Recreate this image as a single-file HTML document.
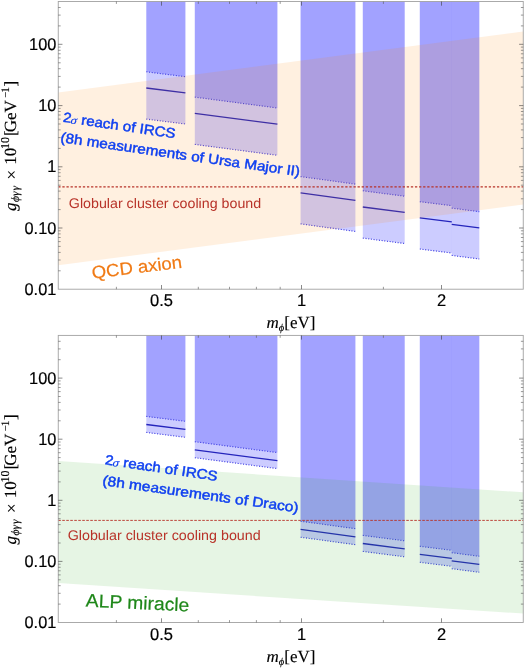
<!DOCTYPE html>
<html><head><meta charset="utf-8"><title>plot</title>
<style>
html,body{margin:0;padding:0;background:#fff;}
svg{display:block;text-rendering:geometricPrecision;}
.sans{font-family:"Liberation Sans",sans-serif;}
.serif{font-family:"Liberation Serif",serif;}
</style></head><body>
<svg width="525" height="668" viewBox="0 0 525 668">
<rect width="525" height="668" fill="#fff"/>
<g>
<polygon points="146.3,1.5 185.4,1.5 185.4,124.0 146.3,119.1" fill="#0000ff" fill-opacity="0.2"/>
<polygon points="146.3,1.5 185.4,1.5 185.4,76.7 146.3,71.8" fill="#0000ff" fill-opacity="0.205"/>
<line x1="146.3" y1="71.8" x2="185.4" y2="76.7" stroke="#4444e4" stroke-width="1.15" stroke-dasharray="1.1 1.6"/>
<line x1="146.3" y1="119.1" x2="185.4" y2="124.0" stroke="#4444e4" stroke-width="1.15" stroke-dasharray="1.1 1.6"/>
<line x1="146.3" y1="88.0" x2="185.4" y2="92.9" stroke="#2424bc" stroke-width="1.3"/>
<polygon points="194.8,1.5 277.4,1.5 277.4,155.3 194.8,144.4" fill="#0000ff" fill-opacity="0.2"/>
<polygon points="194.8,1.5 277.4,1.5 277.4,108.0 194.8,97.1" fill="#0000ff" fill-opacity="0.205"/>
<line x1="194.8" y1="97.1" x2="277.4" y2="108.0" stroke="#4444e4" stroke-width="1.15" stroke-dasharray="1.1 1.6"/>
<line x1="194.8" y1="144.4" x2="277.4" y2="155.3" stroke="#4444e4" stroke-width="1.15" stroke-dasharray="1.1 1.6"/>
<line x1="194.8" y1="113.3" x2="277.4" y2="124.2" stroke="#2424bc" stroke-width="1.3"/>
<polygon points="300.6,1.5 355.4,1.5 355.4,231.4 300.6,223.9" fill="#0000ff" fill-opacity="0.2"/>
<polygon points="300.6,1.5 355.4,1.5 355.4,184.1 300.6,176.6" fill="#0000ff" fill-opacity="0.205"/>
<line x1="300.6" y1="176.6" x2="355.4" y2="184.1" stroke="#4444e4" stroke-width="1.15" stroke-dasharray="1.1 1.6"/>
<line x1="300.6" y1="223.9" x2="355.4" y2="231.4" stroke="#4444e4" stroke-width="1.15" stroke-dasharray="1.1 1.6"/>
<line x1="300.6" y1="192.8" x2="355.4" y2="200.3" stroke="#2424bc" stroke-width="1.3"/>
<polygon points="362.8,1.5 404.7,1.5 404.7,243.5 362.8,238.1" fill="#0000ff" fill-opacity="0.2"/>
<polygon points="362.8,1.5 404.7,1.5 404.7,196.2 362.8,190.8" fill="#0000ff" fill-opacity="0.205"/>
<line x1="362.8" y1="190.8" x2="404.7" y2="196.2" stroke="#4444e4" stroke-width="1.15" stroke-dasharray="1.1 1.6"/>
<line x1="362.8" y1="238.1" x2="404.7" y2="243.5" stroke="#4444e4" stroke-width="1.15" stroke-dasharray="1.1 1.6"/>
<line x1="362.8" y1="207.0" x2="404.7" y2="212.4" stroke="#2424bc" stroke-width="1.3"/>
<polygon points="419.8,1.5 451.8,1.5 451.8,253.0 419.8,249.0" fill="#0000ff" fill-opacity="0.2"/>
<polygon points="419.8,1.5 451.8,1.5 451.8,205.7 419.8,201.7" fill="#0000ff" fill-opacity="0.205"/>
<line x1="419.8" y1="201.7" x2="451.8" y2="205.7" stroke="#4444e4" stroke-width="1.15" stroke-dasharray="1.1 1.6"/>
<line x1="419.8" y1="249.0" x2="451.8" y2="253.0" stroke="#4444e4" stroke-width="1.15" stroke-dasharray="1.1 1.6"/>
<line x1="419.8" y1="217.9" x2="451.8" y2="221.9" stroke="#2424bc" stroke-width="1.3"/>
<polygon points="451.7,1.5 479.3,1.5 479.3,259.0 451.7,255.4" fill="#0000ff" fill-opacity="0.2"/>
<polygon points="451.7,1.5 479.3,1.5 479.3,211.7 451.7,208.1" fill="#0000ff" fill-opacity="0.205"/>
<line x1="451.7" y1="208.1" x2="479.3" y2="211.7" stroke="#4444e4" stroke-width="1.15" stroke-dasharray="1.1 1.6"/>
<line x1="451.7" y1="255.4" x2="479.3" y2="259.0" stroke="#4444e4" stroke-width="1.15" stroke-dasharray="1.1 1.6"/>
<line x1="451.7" y1="224.3" x2="479.3" y2="227.9" stroke="#2424bc" stroke-width="1.3"/>
<polygon points="58.2,92.5 523.3,31.4 523.3,204.5 58.2,265.3" fill="#ff8000" fill-opacity="0.12"/>
<line x1="58.25" y1="186.8" x2="523.3" y2="186.8" stroke="#b83228" stroke-width="1.25" stroke-dasharray="2.3 1.8"/>
<rect x="58.25" y="1.5" width="465.0" height="287.7" fill="none" stroke="#a2a2a2" stroke-width="0.9"/>
<path d="M58.25 270.8h2.4M523.3 270.8h-2.4" stroke="#555" stroke-width="0.6" fill="none"/>
<path d="M58.25 260.0h2.4M523.3 260.0h-2.4" stroke="#555" stroke-width="0.6" fill="none"/>
<path d="M58.25 252.4h2.4M523.3 252.4h-2.4" stroke="#555" stroke-width="0.6" fill="none"/>
<path d="M58.25 246.4h2.4M523.3 246.4h-2.4" stroke="#555" stroke-width="0.6" fill="none"/>
<path d="M58.25 241.6h2.4M523.3 241.6h-2.4" stroke="#555" stroke-width="0.6" fill="none"/>
<path d="M58.25 237.5h2.4M523.3 237.5h-2.4" stroke="#555" stroke-width="0.6" fill="none"/>
<path d="M58.25 233.9h2.4M523.3 233.9h-2.4" stroke="#555" stroke-width="0.6" fill="none"/>
<path d="M58.25 230.8h2.4M523.3 230.8h-2.4" stroke="#555" stroke-width="0.6" fill="none"/>
<path d="M58.25 228.0h4.2M523.3 228.0h-4.2" stroke="#3a3a3a" stroke-width="0.6" fill="none"/>
<path d="M58.25 209.6h2.4M523.3 209.6h-2.4" stroke="#555" stroke-width="0.6" fill="none"/>
<path d="M58.25 198.8h2.4M523.3 198.8h-2.4" stroke="#555" stroke-width="0.6" fill="none"/>
<path d="M58.25 191.1h2.4M523.3 191.1h-2.4" stroke="#555" stroke-width="0.6" fill="none"/>
<path d="M58.25 185.2h2.4M523.3 185.2h-2.4" stroke="#555" stroke-width="0.6" fill="none"/>
<path d="M58.25 180.4h2.4M523.3 180.4h-2.4" stroke="#555" stroke-width="0.6" fill="none"/>
<path d="M58.25 176.3h2.4M523.3 176.3h-2.4" stroke="#555" stroke-width="0.6" fill="none"/>
<path d="M58.25 172.7h2.4M523.3 172.7h-2.4" stroke="#555" stroke-width="0.6" fill="none"/>
<path d="M58.25 169.6h2.4M523.3 169.6h-2.4" stroke="#555" stroke-width="0.6" fill="none"/>
<path d="M58.25 166.8h4.2M523.3 166.8h-4.2" stroke="#3a3a3a" stroke-width="0.6" fill="none"/>
<path d="M58.25 148.4h2.4M523.3 148.4h-2.4" stroke="#555" stroke-width="0.6" fill="none"/>
<path d="M58.25 137.6h2.4M523.3 137.6h-2.4" stroke="#555" stroke-width="0.6" fill="none"/>
<path d="M58.25 129.9h2.4M523.3 129.9h-2.4" stroke="#555" stroke-width="0.6" fill="none"/>
<path d="M58.25 124.0h2.4M523.3 124.0h-2.4" stroke="#555" stroke-width="0.6" fill="none"/>
<path d="M58.25 119.1h2.4M523.3 119.1h-2.4" stroke="#555" stroke-width="0.6" fill="none"/>
<path d="M58.25 115.0h2.4M523.3 115.0h-2.4" stroke="#555" stroke-width="0.6" fill="none"/>
<path d="M58.25 111.5h2.4M523.3 111.5h-2.4" stroke="#555" stroke-width="0.6" fill="none"/>
<path d="M58.25 108.4h2.4M523.3 108.4h-2.4" stroke="#555" stroke-width="0.6" fill="none"/>
<path d="M58.25 105.6h4.2M523.3 105.6h-4.2" stroke="#3a3a3a" stroke-width="0.6" fill="none"/>
<path d="M58.25 87.1h2.4M523.3 87.1h-2.4" stroke="#555" stroke-width="0.6" fill="none"/>
<path d="M58.25 76.4h2.4M523.3 76.4h-2.4" stroke="#555" stroke-width="0.6" fill="none"/>
<path d="M58.25 68.7h2.4M523.3 68.7h-2.4" stroke="#555" stroke-width="0.6" fill="none"/>
<path d="M58.25 62.8h2.4M523.3 62.8h-2.4" stroke="#555" stroke-width="0.6" fill="none"/>
<path d="M58.25 57.9h2.4M523.3 57.9h-2.4" stroke="#555" stroke-width="0.6" fill="none"/>
<path d="M58.25 53.8h2.4M523.3 53.8h-2.4" stroke="#555" stroke-width="0.6" fill="none"/>
<path d="M58.25 50.3h2.4M523.3 50.3h-2.4" stroke="#555" stroke-width="0.6" fill="none"/>
<path d="M58.25 47.1h2.4M523.3 47.1h-2.4" stroke="#555" stroke-width="0.6" fill="none"/>
<path d="M58.25 44.3h4.2M523.3 44.3h-4.2" stroke="#3a3a3a" stroke-width="0.6" fill="none"/>
<path d="M58.25 25.9h2.4M523.3 25.9h-2.4" stroke="#555" stroke-width="0.6" fill="none"/>
<path d="M58.25 15.1h2.4M523.3 15.1h-2.4" stroke="#555" stroke-width="0.6" fill="none"/>
<path d="M58.25 7.5h2.4M523.3 7.5h-2.4" stroke="#555" stroke-width="0.6" fill="none"/>
<path d="M116.4 289.2v-2.4M116.4 1.5v2.4" stroke="#555" stroke-width="0.6" fill="none"/>
<path d="M161.5 289.2v-4.2M161.5 1.5v4.2" stroke="#3a3a3a" stroke-width="0.6" fill="none"/>
<path d="M198.3 289.2v-2.4M198.3 1.5v2.4" stroke="#555" stroke-width="0.6" fill="none"/>
<path d="M229.5 289.2v-2.4M229.5 1.5v2.4" stroke="#555" stroke-width="0.6" fill="none"/>
<path d="M256.4 289.2v-2.4M256.4 1.5v2.4" stroke="#555" stroke-width="0.6" fill="none"/>
<path d="M280.2 289.2v-2.4M280.2 1.5v2.4" stroke="#555" stroke-width="0.6" fill="none"/>
<path d="M301.5 289.2v-4.2M301.5 1.5v4.2" stroke="#3a3a3a" stroke-width="0.6" fill="none"/>
<path d="M383.4 289.2v-2.4M383.4 1.5v2.4" stroke="#555" stroke-width="0.6" fill="none"/>
<path d="M441.5 289.2v-4.2M441.5 1.5v4.2" stroke="#3a3a3a" stroke-width="0.6" fill="none"/>
<text class="sans" transform="translate(56.3 49.9) scale(0.96 1)" font-size="17" text-anchor="end" fill="#000" stroke="#000" stroke-width="0.2">100</text>
<text class="sans" transform="translate(56.3 111.2) scale(0.96 1)" font-size="17" text-anchor="end" fill="#000" stroke="#000" stroke-width="0.2">10</text>
<text class="sans" transform="translate(56.3 172.4) scale(0.96 1)" font-size="17" text-anchor="end" fill="#000" stroke="#000" stroke-width="0.2">1</text>
<text class="sans" transform="translate(56.3 233.6) scale(0.96 1)" font-size="17" text-anchor="end" fill="#000" stroke="#000" stroke-width="0.2">0.10</text>
<text class="sans" transform="translate(56.3 294.8) scale(0.96 1)" font-size="17" text-anchor="end" fill="#000" stroke="#000" stroke-width="0.2">0.01</text>
<text class="sans" transform="translate(161.5 306.4) scale(0.97 1)" font-size="17" text-anchor="middle" fill="#000" stroke="#000" stroke-width="0.2">0.5</text>
<text class="sans" transform="translate(301.5 306.4) scale(0.97 1)" font-size="17" text-anchor="middle" fill="#000" stroke="#000" stroke-width="0.2">1</text>
<text class="sans" transform="translate(441.5 306.4) scale(0.97 1)" font-size="17" text-anchor="middle" fill="#000" stroke="#000" stroke-width="0.2">2</text>
<text class="serif" x="266.5" y="328.1" font-size="17" fill="#000" stroke="#000" stroke-width="0.15"><tspan font-style="italic">m</tspan><tspan font-style="italic" font-size="10.5" dy="3.2">ϕ</tspan><tspan dy="-3.2">[eV]</tspan></text>
<text class="serif" transform="translate(16.2 211.0) rotate(-90)" fill="#000" stroke="#000" stroke-width="0.15"><tspan font-style="italic" font-size="17" x="0" y="0">g</tspan><tspan font-style="italic" font-size="11.5" x="9.0" y="2.4">ϕγ</tspan><tspan font-style="italic" dx="1.0" font-size="11.5" y="2.4">γ</tspan><tspan  font-size="17" x="31.6" y="1.0">×</tspan><tspan  font-size="17" x="46.2" y="0">10</tspan><tspan  font-size="12" x="62.0" y="-6.8">10</tspan><tspan  font-size="17" x="75.0" y="0">[</tspan><tspan  font-size="17" x="78.7" y="0">GeV</tspan><tspan  font-size="10.5" x="113.2" y="-7.0">−</tspan><tspan  font-size="11.5" x="118.3" y="-6.8">1</tspan><tspan  font-size="17" x="124.6" y="0">]</tspan></text>
<text class="sans" x="68.8" y="208.0" font-size="13.9" fill="#b83228" textLength="192.4" lengthAdjust="spacingAndGlyphs">Globular cluster cooling bound</text>
</g>
<g>
<polygon points="146.3,335.4 185.4,335.4 185.4,437.3 146.3,432.4" fill="#0000ff" fill-opacity="0.2"/>
<polygon points="146.3,335.4 185.4,335.4 185.4,421.3 146.3,416.4" fill="#0000ff" fill-opacity="0.205"/>
<line x1="146.3" y1="416.4" x2="185.4" y2="421.3" stroke="#4444e4" stroke-width="1.15" stroke-dasharray="1.1 1.6"/>
<line x1="146.3" y1="432.4" x2="185.4" y2="437.3" stroke="#4444e4" stroke-width="1.15" stroke-dasharray="1.1 1.6"/>
<line x1="146.3" y1="424.5" x2="185.4" y2="429.4" stroke="#2424bc" stroke-width="1.3"/>
<polygon points="194.8,335.4 277.4,335.4 277.4,468.6 194.8,457.7" fill="#0000ff" fill-opacity="0.2"/>
<polygon points="194.8,335.4 277.4,335.4 277.4,452.6 194.8,441.7" fill="#0000ff" fill-opacity="0.205"/>
<line x1="194.8" y1="441.7" x2="277.4" y2="452.6" stroke="#4444e4" stroke-width="1.15" stroke-dasharray="1.1 1.6"/>
<line x1="194.8" y1="457.7" x2="277.4" y2="468.6" stroke="#4444e4" stroke-width="1.15" stroke-dasharray="1.1 1.6"/>
<line x1="194.8" y1="449.8" x2="277.4" y2="460.7" stroke="#2424bc" stroke-width="1.3"/>
<polygon points="300.6,335.4 355.4,335.4 355.4,544.7 300.6,537.2" fill="#0000ff" fill-opacity="0.2"/>
<polygon points="300.6,335.4 355.4,335.4 355.4,528.7 300.6,521.2" fill="#0000ff" fill-opacity="0.205"/>
<line x1="300.6" y1="521.2" x2="355.4" y2="528.7" stroke="#4444e4" stroke-width="1.15" stroke-dasharray="1.1 1.6"/>
<line x1="300.6" y1="537.2" x2="355.4" y2="544.7" stroke="#4444e4" stroke-width="1.15" stroke-dasharray="1.1 1.6"/>
<line x1="300.6" y1="529.3" x2="355.4" y2="536.8" stroke="#2424bc" stroke-width="1.3"/>
<polygon points="362.8,335.4 404.7,335.4 404.7,556.8 362.8,551.4" fill="#0000ff" fill-opacity="0.2"/>
<polygon points="362.8,335.4 404.7,335.4 404.7,540.8 362.8,535.4" fill="#0000ff" fill-opacity="0.205"/>
<line x1="362.8" y1="535.4" x2="404.7" y2="540.8" stroke="#4444e4" stroke-width="1.15" stroke-dasharray="1.1 1.6"/>
<line x1="362.8" y1="551.4" x2="404.7" y2="556.8" stroke="#4444e4" stroke-width="1.15" stroke-dasharray="1.1 1.6"/>
<line x1="362.8" y1="543.5" x2="404.7" y2="548.9" stroke="#2424bc" stroke-width="1.3"/>
<polygon points="419.8,335.4 451.8,335.4 451.8,566.3 419.8,562.3" fill="#0000ff" fill-opacity="0.2"/>
<polygon points="419.8,335.4 451.8,335.4 451.8,550.3 419.8,546.3" fill="#0000ff" fill-opacity="0.205"/>
<line x1="419.8" y1="546.3" x2="451.8" y2="550.3" stroke="#4444e4" stroke-width="1.15" stroke-dasharray="1.1 1.6"/>
<line x1="419.8" y1="562.3" x2="451.8" y2="566.3" stroke="#4444e4" stroke-width="1.15" stroke-dasharray="1.1 1.6"/>
<line x1="419.8" y1="554.4" x2="451.8" y2="558.4" stroke="#2424bc" stroke-width="1.3"/>
<polygon points="451.7,335.4 479.3,335.4 479.3,572.3 451.7,568.7" fill="#0000ff" fill-opacity="0.2"/>
<polygon points="451.7,335.4 479.3,335.4 479.3,556.3 451.7,552.7" fill="#0000ff" fill-opacity="0.205"/>
<line x1="451.7" y1="552.7" x2="479.3" y2="556.3" stroke="#4444e4" stroke-width="1.15" stroke-dasharray="1.1 1.6"/>
<line x1="451.7" y1="568.7" x2="479.3" y2="572.3" stroke="#4444e4" stroke-width="1.15" stroke-dasharray="1.1 1.6"/>
<line x1="451.7" y1="560.8" x2="479.3" y2="564.4" stroke="#2424bc" stroke-width="1.3"/>
<polygon points="58.2,461.1 523.3,492.3 523.3,613.5 58.2,583.1" fill="#2fac1e" fill-opacity="0.12"/>
<line x1="58.25" y1="520.4" x2="523.3" y2="520.4" stroke="#b83228" stroke-width="0.9" stroke-dasharray="2.6 1.4"/>
<rect x="58.25" y="335.4" width="465.0" height="287.1" fill="none" stroke="#a2a2a2" stroke-width="0.9"/>
<path d="M58.25 604.1h2.4M523.3 604.1h-2.4" stroke="#555" stroke-width="0.6" fill="none"/>
<path d="M58.25 593.3h2.4M523.3 593.3h-2.4" stroke="#555" stroke-width="0.6" fill="none"/>
<path d="M58.25 585.7h2.4M523.3 585.7h-2.4" stroke="#555" stroke-width="0.6" fill="none"/>
<path d="M58.25 579.8h2.4M523.3 579.8h-2.4" stroke="#555" stroke-width="0.6" fill="none"/>
<path d="M58.25 574.9h2.4M523.3 574.9h-2.4" stroke="#555" stroke-width="0.6" fill="none"/>
<path d="M58.25 570.8h2.4M523.3 570.8h-2.4" stroke="#555" stroke-width="0.6" fill="none"/>
<path d="M58.25 567.3h2.4M523.3 567.3h-2.4" stroke="#555" stroke-width="0.6" fill="none"/>
<path d="M58.25 564.2h2.4M523.3 564.2h-2.4" stroke="#555" stroke-width="0.6" fill="none"/>
<path d="M58.25 561.4h4.2M523.3 561.4h-4.2" stroke="#3a3a3a" stroke-width="0.6" fill="none"/>
<path d="M58.25 543.0h2.4M523.3 543.0h-2.4" stroke="#555" stroke-width="0.6" fill="none"/>
<path d="M58.25 532.2h2.4M523.3 532.2h-2.4" stroke="#555" stroke-width="0.6" fill="none"/>
<path d="M58.25 524.6h2.4M523.3 524.6h-2.4" stroke="#555" stroke-width="0.6" fill="none"/>
<path d="M58.25 518.7h2.4M523.3 518.7h-2.4" stroke="#555" stroke-width="0.6" fill="none"/>
<path d="M58.25 513.8h2.4M523.3 513.8h-2.4" stroke="#555" stroke-width="0.6" fill="none"/>
<path d="M58.25 509.7h2.4M523.3 509.7h-2.4" stroke="#555" stroke-width="0.6" fill="none"/>
<path d="M58.25 506.2h2.4M523.3 506.2h-2.4" stroke="#555" stroke-width="0.6" fill="none"/>
<path d="M58.25 503.1h2.4M523.3 503.1h-2.4" stroke="#555" stroke-width="0.6" fill="none"/>
<path d="M58.25 500.3h4.2M523.3 500.3h-4.2" stroke="#3a3a3a" stroke-width="0.6" fill="none"/>
<path d="M58.25 481.9h2.4M523.3 481.9h-2.4" stroke="#555" stroke-width="0.6" fill="none"/>
<path d="M58.25 471.1h2.4M523.3 471.1h-2.4" stroke="#555" stroke-width="0.6" fill="none"/>
<path d="M58.25 463.5h2.4M523.3 463.5h-2.4" stroke="#555" stroke-width="0.6" fill="none"/>
<path d="M58.25 457.6h2.4M523.3 457.6h-2.4" stroke="#555" stroke-width="0.6" fill="none"/>
<path d="M58.25 452.7h2.4M523.3 452.7h-2.4" stroke="#555" stroke-width="0.6" fill="none"/>
<path d="M58.25 448.6h2.4M523.3 448.6h-2.4" stroke="#555" stroke-width="0.6" fill="none"/>
<path d="M58.25 445.1h2.4M523.3 445.1h-2.4" stroke="#555" stroke-width="0.6" fill="none"/>
<path d="M58.25 442.0h2.4M523.3 442.0h-2.4" stroke="#555" stroke-width="0.6" fill="none"/>
<path d="M58.25 439.2h4.2M523.3 439.2h-4.2" stroke="#3a3a3a" stroke-width="0.6" fill="none"/>
<path d="M58.25 420.8h2.4M523.3 420.8h-2.4" stroke="#555" stroke-width="0.6" fill="none"/>
<path d="M58.25 410.0h2.4M523.3 410.0h-2.4" stroke="#555" stroke-width="0.6" fill="none"/>
<path d="M58.25 402.4h2.4M523.3 402.4h-2.4" stroke="#555" stroke-width="0.6" fill="none"/>
<path d="M58.25 396.5h2.4M523.3 396.5h-2.4" stroke="#555" stroke-width="0.6" fill="none"/>
<path d="M58.25 391.6h2.4M523.3 391.6h-2.4" stroke="#555" stroke-width="0.6" fill="none"/>
<path d="M58.25 387.5h2.4M523.3 387.5h-2.4" stroke="#555" stroke-width="0.6" fill="none"/>
<path d="M58.25 384.0h2.4M523.3 384.0h-2.4" stroke="#555" stroke-width="0.6" fill="none"/>
<path d="M58.25 380.9h2.4M523.3 380.9h-2.4" stroke="#555" stroke-width="0.6" fill="none"/>
<path d="M58.25 378.1h4.2M523.3 378.1h-4.2" stroke="#3a3a3a" stroke-width="0.6" fill="none"/>
<path d="M58.25 359.7h2.4M523.3 359.7h-2.4" stroke="#555" stroke-width="0.6" fill="none"/>
<path d="M58.25 348.9h2.4M523.3 348.9h-2.4" stroke="#555" stroke-width="0.6" fill="none"/>
<path d="M58.25 341.3h2.4M523.3 341.3h-2.4" stroke="#555" stroke-width="0.6" fill="none"/>
<path d="M116.4 622.5v-2.4M116.4 335.4v2.4" stroke="#555" stroke-width="0.6" fill="none"/>
<path d="M161.5 622.5v-4.2M161.5 335.4v4.2" stroke="#3a3a3a" stroke-width="0.6" fill="none"/>
<path d="M198.3 622.5v-2.4M198.3 335.4v2.4" stroke="#555" stroke-width="0.6" fill="none"/>
<path d="M229.5 622.5v-2.4M229.5 335.4v2.4" stroke="#555" stroke-width="0.6" fill="none"/>
<path d="M256.4 622.5v-2.4M256.4 335.4v2.4" stroke="#555" stroke-width="0.6" fill="none"/>
<path d="M280.2 622.5v-2.4M280.2 335.4v2.4" stroke="#555" stroke-width="0.6" fill="none"/>
<path d="M301.5 622.5v-4.2M301.5 335.4v4.2" stroke="#3a3a3a" stroke-width="0.6" fill="none"/>
<path d="M383.4 622.5v-2.4M383.4 335.4v2.4" stroke="#555" stroke-width="0.6" fill="none"/>
<path d="M441.5 622.5v-4.2M441.5 335.4v4.2" stroke="#3a3a3a" stroke-width="0.6" fill="none"/>
<text class="sans" transform="translate(56.3 383.7) scale(0.96 1)" font-size="17" text-anchor="end" fill="#000" stroke="#000" stroke-width="0.2">100</text>
<text class="sans" transform="translate(56.3 444.8) scale(0.96 1)" font-size="17" text-anchor="end" fill="#000" stroke="#000" stroke-width="0.2">10</text>
<text class="sans" transform="translate(56.3 505.9) scale(0.96 1)" font-size="17" text-anchor="end" fill="#000" stroke="#000" stroke-width="0.2">1</text>
<text class="sans" transform="translate(56.3 567.0) scale(0.96 1)" font-size="17" text-anchor="end" fill="#000" stroke="#000" stroke-width="0.2">0.10</text>
<text class="sans" transform="translate(56.3 628.1) scale(0.96 1)" font-size="17" text-anchor="end" fill="#000" stroke="#000" stroke-width="0.2">0.01</text>
<text class="sans" transform="translate(161.5 639.9) scale(0.97 1)" font-size="17" text-anchor="middle" fill="#000" stroke="#000" stroke-width="0.2">0.5</text>
<text class="sans" transform="translate(301.5 639.9) scale(0.97 1)" font-size="17" text-anchor="middle" fill="#000" stroke="#000" stroke-width="0.2">1</text>
<text class="sans" transform="translate(441.5 639.9) scale(0.97 1)" font-size="17" text-anchor="middle" fill="#000" stroke="#000" stroke-width="0.2">2</text>
<text class="serif" x="266.5" y="661.6" font-size="17" fill="#000" stroke="#000" stroke-width="0.15"><tspan font-style="italic">m</tspan><tspan font-style="italic" font-size="10.5" dy="3.2">ϕ</tspan><tspan dy="-3.2">[eV]</tspan></text>
<text class="serif" transform="translate(16.2 544.5) rotate(-90)" fill="#000" stroke="#000" stroke-width="0.15"><tspan font-style="italic" font-size="17" x="0" y="0">g</tspan><tspan font-style="italic" font-size="11.5" x="9.0" y="2.4">ϕγ</tspan><tspan font-style="italic" dx="1.0" font-size="11.5" y="2.4">γ</tspan><tspan  font-size="17" x="31.6" y="1.0">×</tspan><tspan  font-size="17" x="46.2" y="0">10</tspan><tspan  font-size="12" x="62.0" y="-6.8">10</tspan><tspan  font-size="17" x="75.0" y="0">[</tspan><tspan  font-size="17" x="78.7" y="0">GeV</tspan><tspan  font-size="10.5" x="113.2" y="-7.0">−</tspan><tspan  font-size="11.5" x="118.3" y="-6.8">1</tspan><tspan  font-size="17" x="124.6" y="0">]</tspan></text>
<text class="sans" x="67.7" y="539.9" font-size="13.9" fill="#b83228" textLength="193.0" lengthAdjust="spacingAndGlyphs">Globular cluster cooling bound</text>
</g>
<text class="sans" transform="translate(62.5 121.8) rotate(8.35)" font-size="13.9" fill="#1040f0" stroke="#1040f0" stroke-width="0.45" textLength="113.5" lengthAdjust="spacingAndGlyphs">2<tspan class="serif" font-style="italic" font-size="11.5" stroke-width="0.15" dx="-0.4" dy="0.5">σ</tspan><tspan dy="-0.5"> reach of IRCS</tspan></text>
<text class="sans" transform="translate(60.0 142.1) rotate(8.1)" font-size="13.9" fill="#1040f0" stroke="#1040f0" stroke-width="0.45" textLength="241.8" lengthAdjust="spacingAndGlyphs">(8h measurements of Ursa Major II)</text>
<text class="sans" transform="translate(92.5 278.7) rotate(-7)" font-size="17.6" fill="#f07a14" stroke="#f07a14" stroke-width="0.2" textLength="90.8" lengthAdjust="spacingAndGlyphs">QCD axion</text>
<text class="sans" transform="translate(104.5 464.3) rotate(8.4)" font-size="13.9" fill="#1040f0" stroke="#1040f0" stroke-width="0.45" textLength="113.5" lengthAdjust="spacingAndGlyphs">2<tspan class="serif" font-style="italic" font-size="11.5" stroke-width="0.15" dx="-0.4" dy="0.5">σ</tspan><tspan dy="-0.5"> reach of IRCS</tspan></text>
<text class="sans" transform="translate(102.0 485.0) rotate(8.0)" font-size="13.9" fill="#1040f0" stroke="#1040f0" stroke-width="0.45" textLength="197.8" lengthAdjust="spacingAndGlyphs">(8h measurements of Draco)</text>
<text class="sans" transform="translate(85.6 606.5) rotate(2.8)" font-size="18.4" fill="#1e8719" stroke="#1e8719" stroke-width="0.2" textLength="103.6" lengthAdjust="spacingAndGlyphs">ALP miracle</text>
</svg>
</body></html>
